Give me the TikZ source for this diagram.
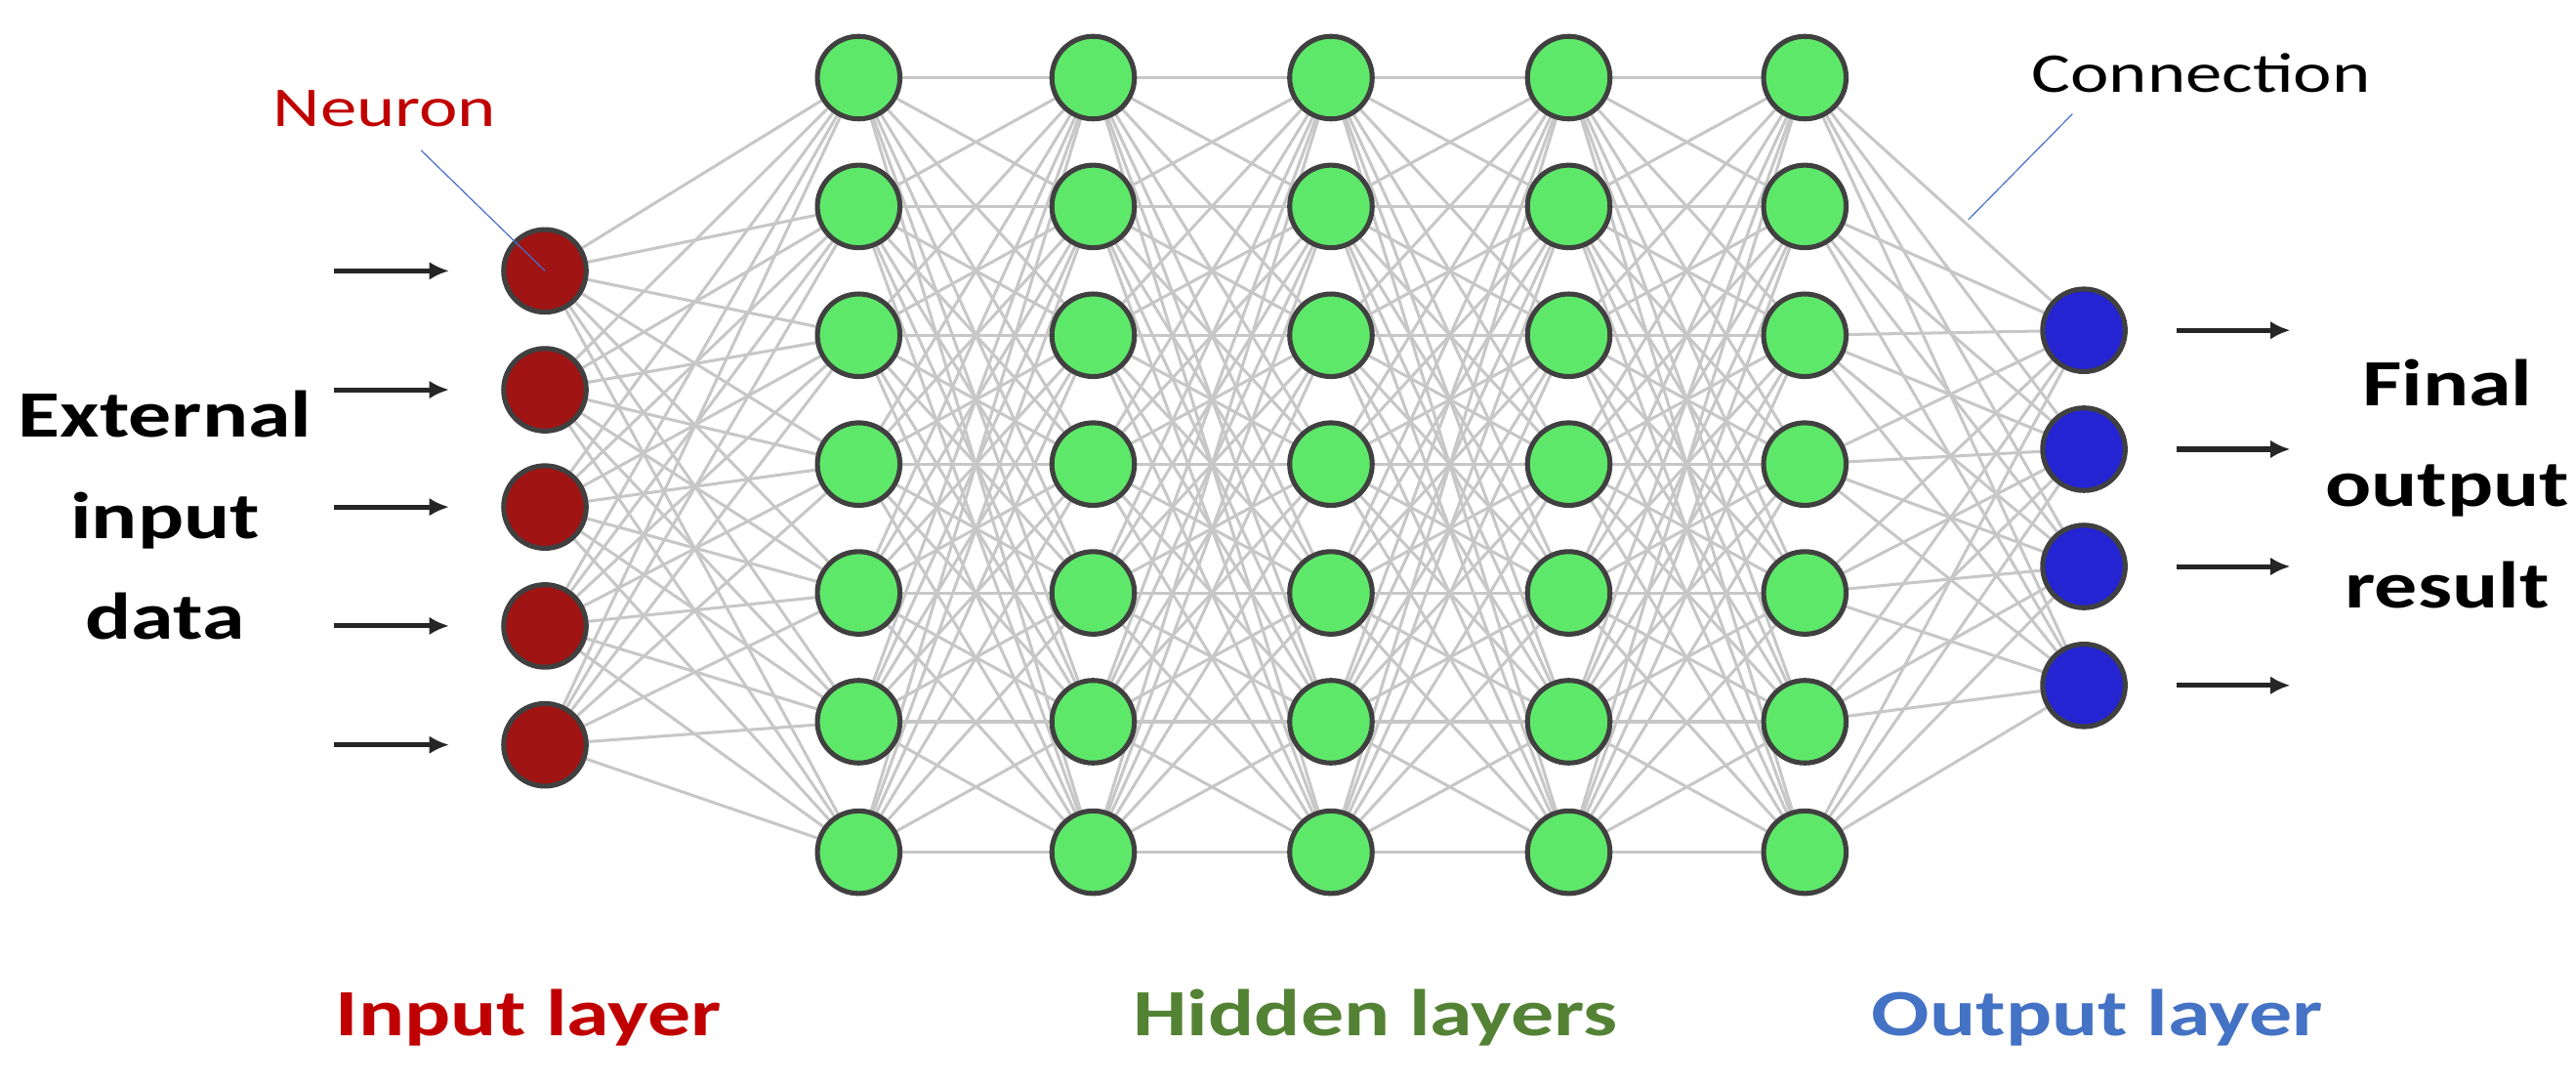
\documentclass[tikz,border=0pt]{standalone}
\usepackage{fontspec}
\setmainfont{Carlito}
\usetikzlibrary{backgrounds,arrows.meta}
\newcommand{\wide}[1]{\scalebox{1.3}[1]{#1}}
\begin{document}
\begin{tikzpicture}[x=1pt,y=-1pt,
  neu/.style={circle,draw=black!75,line width=3pt,minimum size=50pt,inner sep=0},
  inn/.style={neu,fill={rgb,255:red,160;green,20;blue,20}},
  hid/.style={neu,fill={rgb,255:red,94;green,232;blue,106}},
  outn/.style={neu,fill={rgb,255:red,36;green,36;blue,210}},
  conn/.style={draw=black!22,line width=1.8pt},
  arr/.style={-{Latex[length=12pt,width=11pt]},line width=3pt,black!85},
  lbl/.style={font=\bfseries\fontsize{40}{61}\selectfont,align=center},
  thin/.style={draw={rgb,255:red,70;green,110;blue,200},line width=0.7pt}]
\useasboundingbox (0,0) rectangle (1560,657);
\foreach \i/\y in {1/164,2/236,3/307,4/379,5/451} \node[inn] (i\i) at (330,\y) {};
\foreach \l/\x in {1/520,2/662,3/806,4/950,5/1093}
  \foreach \j/\y in {1/47,2/125,3/203,4/281,5/359,6/437,7/516} \node[hid] (h\l\j) at (\x,\y) {};
\foreach \k/\y in {1/200,2/272,3/343,4/415} \node[outn] (o\k) at (1262,\y) {};
\begin{scope}[on background layer]
  \foreach \i in {1,...,5} \foreach \j in {1,...,7} \draw[conn] (i\i) -- (h1\j);
  \foreach \l/\m in {1/2,2/3,3/4,4/5} \foreach \i in {1,...,7} \foreach \j in {1,...,7} \draw[conn] (h\l\i) -- (h\m\j);
  \foreach \i in {1,...,7} \foreach \k in {1,...,4} \draw[conn] (h5\i) -- (o\k);
\end{scope}
\foreach \i in {1,...,5} { \coordinate (ai\i) at ([xshift=-128pt]i\i.center); \draw[arr] (ai\i) -- ([xshift=-58pt]i\i.center); }
\foreach \k in {1,...,4} { \coordinate (ao\k) at ([xshift=125pt]o\k.center); \draw[arr] ([xshift=56pt]o\k.center) -- (ao\k); }
\node[lbl] (ext) at (100,312) {\wide{External}\\\wide{input}\\\wide{data}};
\node[lbl] (fin) at (1482,293) {\wide{Final}\\\wide{output}\\\wide{result}};
\node[font=\fontsize{34}{40}\selectfont,text={rgb,255:red,192;green,0;blue,0}] (neuron) at (233,66) {\wide{Neuron}};
\coordinate (nl) at (255,91);
\draw[thin] (nl) -- (i1.center);
\node[font=\fontsize{34}{40}\selectfont] (connection) at (1333,44) {\wide{Connection}};
\coordinate (cl1) at (1255,69); \coordinate (cl2) at (1192,133);
\draw[thin] (cl1) -- (cl2);
\node[lbl,text={rgb,255:red,192;green,0;blue,0}] (il) at (320,616) {\wide{Input layer}};
\node[lbl,text={rgb,255:red,84;green,130;blue,53}] (hl) at (833,616) {\wide{Hidden layers}};
\node[lbl,text={rgb,255:red,68;green,114;blue,196}] (ol) at (1270,616) {\wide{Output layer}};
\end{tikzpicture}
\end{document}
